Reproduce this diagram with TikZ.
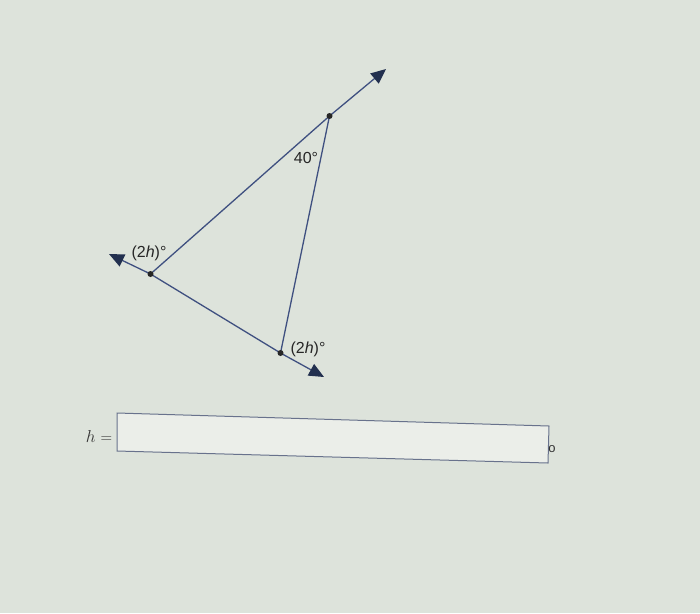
\documentclass[tikz,border=0pt]{standalone}
\usepackage{fontspec}
\setsansfont{Liberation Sans}
\usetikzlibrary{arrows.meta}
\definecolor{bg}{HTML}{DDE3DB}
\definecolor{ln}{HTML}{3F5080}
\definecolor{tip}{HTML}{22304F}
\definecolor{boxc}{HTML}{68728C}
\tikzset{
  ray/.style={draw=ln, line width=1.3pt, -{Triangle[length=15pt,width=13pt,fill=tip,color=tip]}},
  seg/.style={draw=ln, line width=1.3pt},
  dot/.style={circle, fill=black!85, inner sep=0pt, minimum size=6pt},
  lab/.style={font=\sffamily\fontsize{16}{18}\selectfont, text=black!85, inner sep=0pt}
}
\begin{document}
\begin{tikzpicture}[x=1pt,y=-1pt]
\fill[bg] (0,0) rectangle (700,613);
\useasboundingbox (0,0) rectangle (700,613);
\coordinate (A) at (329.5,116);
\coordinate (B) at (150.5,274);
\coordinate (C) at (280.5,353);
\coordinate (TA) at (386,69);
\coordinate (TB) at (109,254);
\coordinate (TC) at (324,377);
\draw[seg] (A) -- (B) -- (C) -- cycle;
\draw[ray] (A) -- (TA);
\draw[ray] (B) -- (TB);
\draw[ray] (C) -- (TC);
\node[dot] (dA) at (A) {};
\node[dot] (dB) at (B) {};
\node[dot] (dC) at (C) {};
\node[lab] (l40) at (306,158) {40°};
\node[lab] (lB) at (149,253) {(2\textit{h})°};
\node[lab] (lC) at (308,349) {(2\textit{h})°};
\node[font=\fontsize{16}{18}\selectfont, text=black!80, inner sep=0pt] (heq) at (99,436) {$h$ =};
\draw[boxc, line width=1pt, fill=bg!60!white] (117,413) -- (549,426) -- (548,463) -- (117,451) -- cycle;
\node[font=\sffamily\fontsize{13}{15}\selectfont, text=black!80, inner sep=0pt] (deg) at (552,449) {o};
\end{tikzpicture}
\end{document}
